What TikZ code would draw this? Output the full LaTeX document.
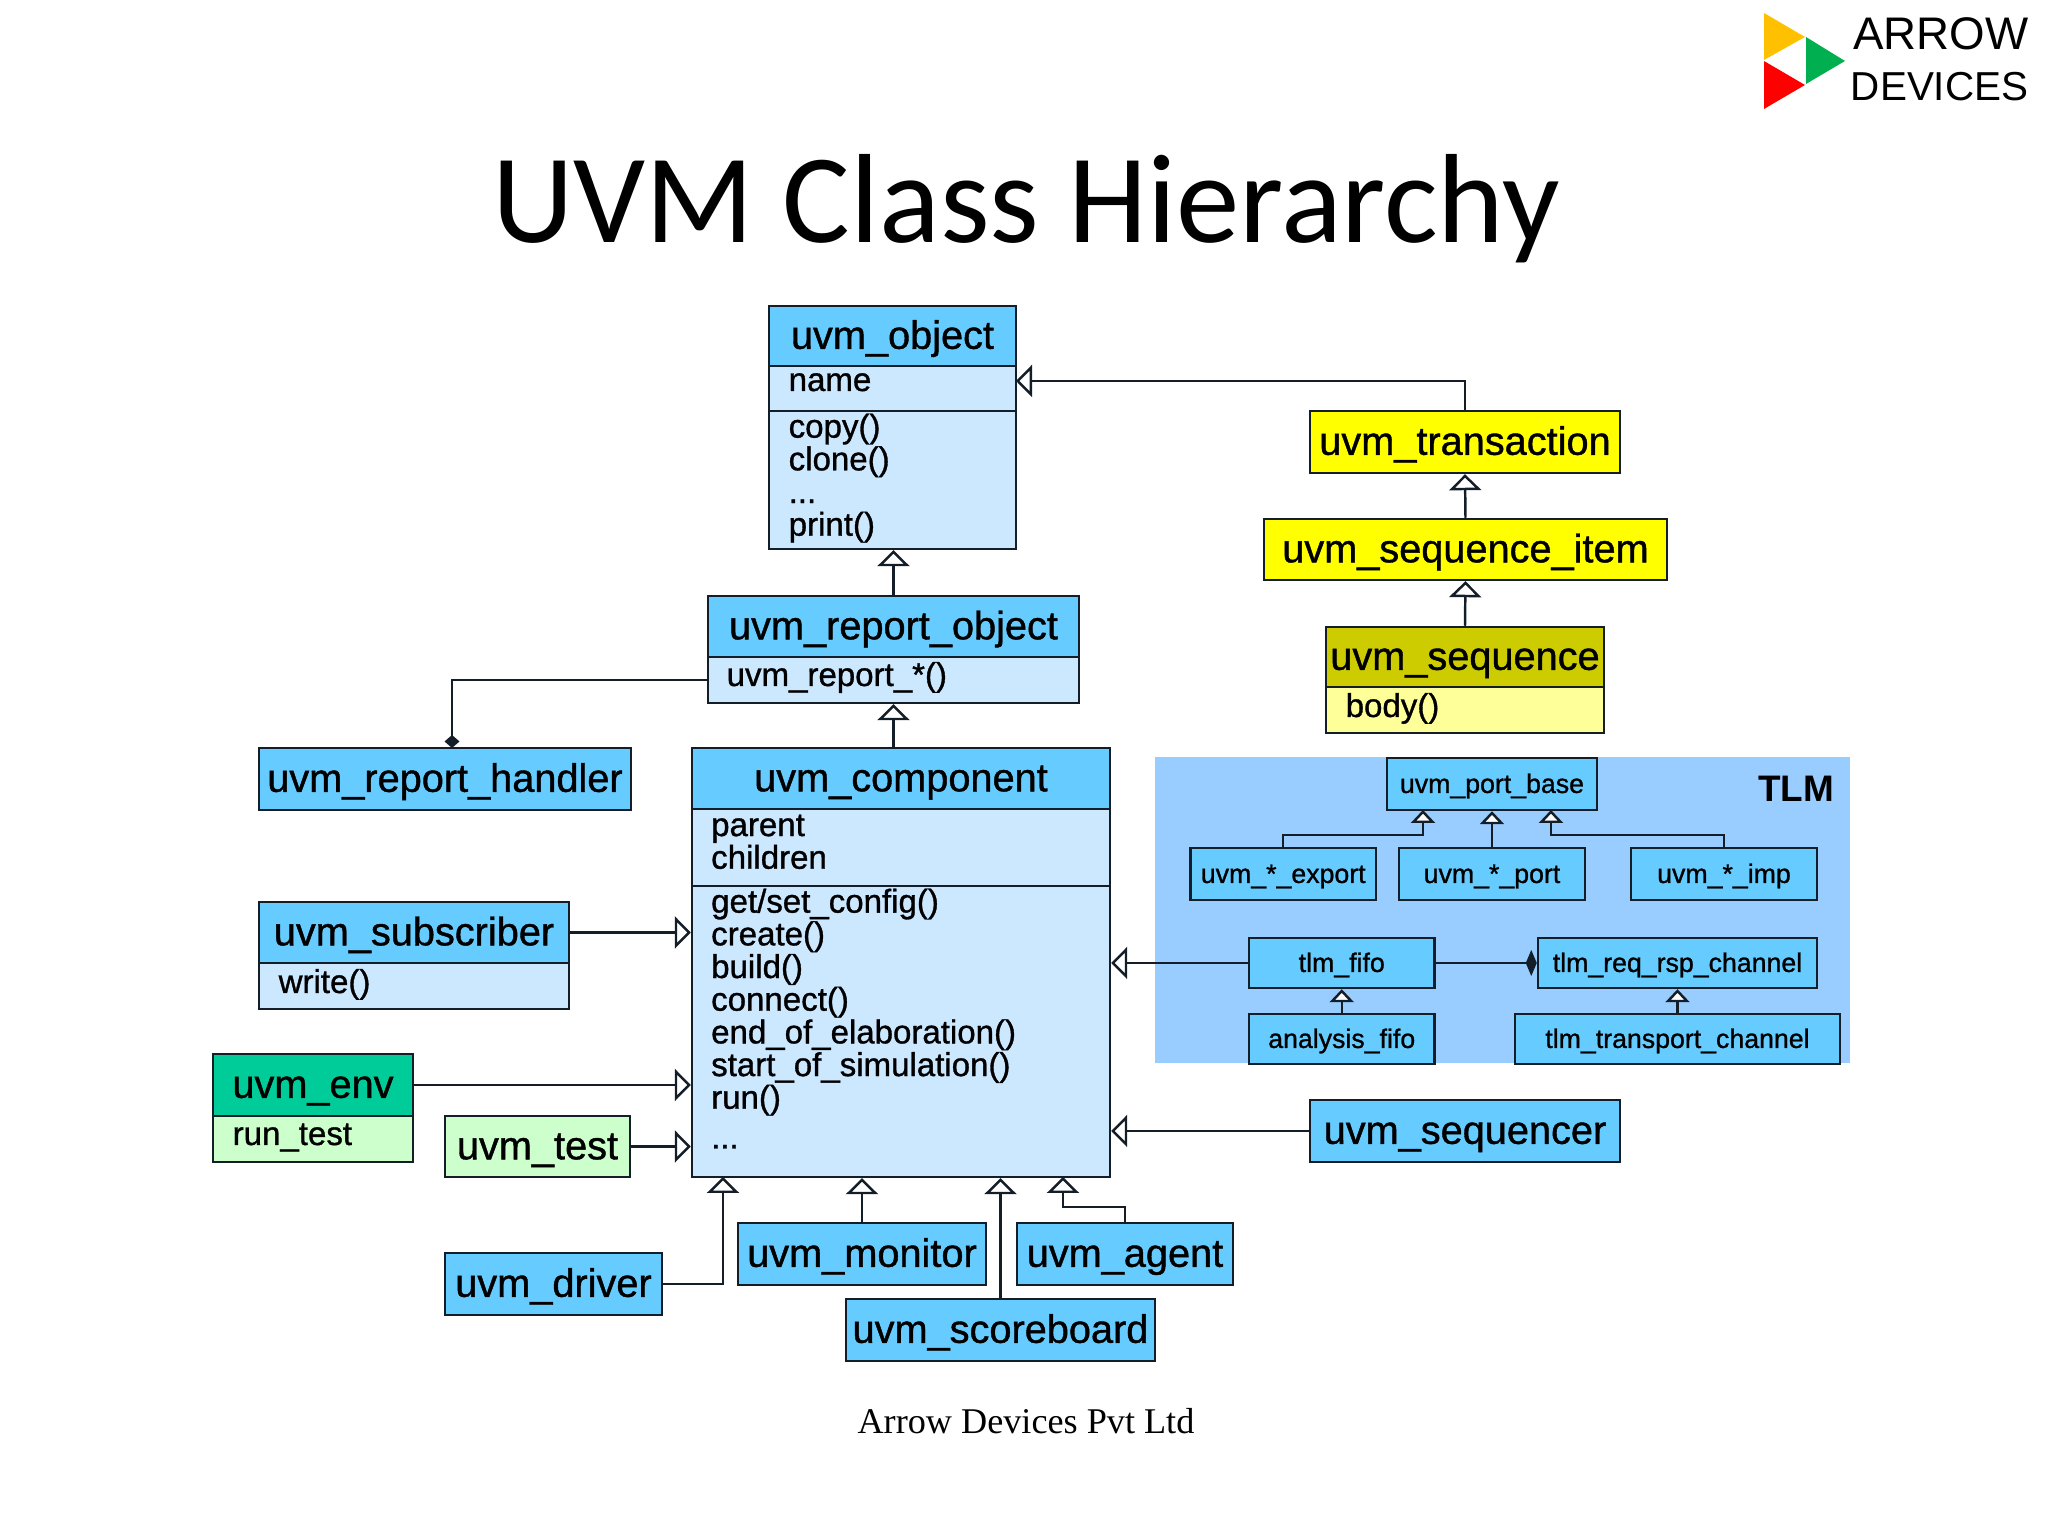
\documentclass[tikz,border=0pt]{standalone}
\usepackage{fontspec}
\setmainfont{Liberation Serif}
\newfontfamily\umlfont[FakeBold=1]{Liberation Sans}
\newfontfamily\logofont{Liberation Sans}
\newfontfamily\titlefont{Carlito}
\usepackage{tikz}
\usetikzlibrary{arrows.meta}
\definecolor{headblue}{RGB}{102,204,255}
\definecolor{bodyblue}{RGB}{204,232,255}
\definecolor{tlmblue}{RGB}{153,204,255}
\definecolor{envgreen}{RGB}{0,204,153}
\definecolor{palegreen}{RGB}{204,255,204}
\definecolor{seqyellow}{RGB}{204,204,0}
\definecolor{brightyellow}{RGB}{255,255,0}
\definecolor{paleyellow}{RGB}{255,255,153}
\definecolor{boxline}{RGB}{20,30,40}
\definecolor{logoamber}{RGB}{255,192,0}
\definecolor{logogreen}{RGB}{0,176,80}
\definecolor{logored}{RGB}{255,0,0}
\tikzset{
    umlbox/.style={draw=boxline,line width=.7pt,inner sep=0pt},
    classbox/.style={umlbox,fill=headblue,minimum height=.62cm,font=\umlfont\fontsize{11.3}{13}\selectfont,text height=9.5pt,text depth=2.2pt},
    slotbox/.style={umlbox,fill=bodyblue},
    portbox/.style={classbox,minimum height=.5cm,font=\umlfont\fontsize{7.6}{9}\selectfont,text height=6.2pt,text depth=1.1pt},
    members/.style={inner sep=0pt,align=left,font=\umlfont\fontsize{9.4}{9.3}\selectfont},
    inherit/.style={draw=boxline,line width=.7pt,-{Triangle[fill=white,length=1.6mm,width=3.2mm]}},
    smallinherit/.style={draw=boxline,line width=.7pt,-{Triangle[fill=white,length=1.3mm,width=2.4mm]}},
}
\begin{document}
\begin{tikzpicture}[x=1cm,y=-1cm]
    \useasboundingbox (0,0) rectangle (20.48,15.37);
    % heading and logo
    \node[anchor=base,font=\titlefont\fontsize{36.1}{40}\selectfont,inner sep=0pt] (title) at (10.26,2.43) {UVM Class Hierarchy};
    \node[anchor=base,font=\fontsize{10.3}{12}\selectfont,inner sep=0pt] (footer) at (10.26,14.34) {Arrow Devices Pvt Ltd};
    \fill[logoamber] (17.64,.13) -- (17.64,.60) -- (18.05,.37) -- cycle;
    \fill[logogreen] (18.06,.37) -- (18.06,.84) -- (18.45,.61) -- cycle;
    \fill[logored] (17.64,.61) -- (17.64,1.09) -- (18.05,.85) -- cycle;
    \node[anchor=base east,font=\logofont\fontsize{13}{14}\selectfont,inner sep=0pt] (logotop) at (20.29,.50) {ARROW};
    \node[anchor=base east,font=\logofont\fontsize{11.5}{14}\selectfont,inner sep=0pt] (logobot) at (20.29,1.01) {DEVICES};

    % uvm_object branch
    \node[classbox,minimum width=2.47cm,minimum height=.6cm] (obj) at (8.925,3.36) {uvm\_object};
    \node[slotbox,minimum width=2.47cm,minimum height=.45cm] (obj_attr) at (8.925,3.885) {};
    \node[slotbox,minimum width=2.47cm,minimum height=1.38cm] (obj_ops) at (8.925,4.8) {};
    \node[members,anchor=base west] (obj_attr_txt) at (7.88,3.91) {name};
    \node[members,anchor=north west] (obj_ops_txt) at (7.88,4.13) {copy()\\clone()\\...\\print()};

    \node[classbox,minimum width=3.71cm,minimum height=.61cm] (rep) at (8.935,6.265) {uvm\_report\_object};
    \node[slotbox,minimum width=3.71cm,minimum height=.46cm] (rep_ops) at (8.935,6.8) {};
    \node[members,anchor=base west] (rep_ops_txt) at (7.26,6.86) {uvm\_report\_*()};

    \node[classbox,minimum width=3.72cm] (handler) at (4.45,7.79) {uvm\_report\_handler};

    % uvm_component
    \node[classbox,minimum width=4.18cm,minimum height=.61cm] (cmp) at (9.01,7.785) {uvm\_component};
    \node[slotbox,minimum width=4.18cm,minimum height=.77cm] (cmp_attr) at (9.01,8.475) {};
    \node[slotbox,minimum width=4.18cm,minimum height=2.91cm] (cmp_ops) at (9.01,10.315) {};
    \node[members,anchor=north west] (cmp_attr_txt) at (7.105,8.14) {parent\\children};
    \node[members,anchor=north west] (cmp_ops_txt) at (7.105,8.88) {get/set\_config()\\create()\\build()\\connect()\\end\_of\_elaboration()\\start\_of\_simulation()\\run()\\[2pt]...};

    % left and bottom classes
    \node[classbox,minimum width=3.10cm,minimum height=.61cm] (sub) at (4.14,9.325) {uvm\_subscriber};
    \node[slotbox,minimum width=3.10cm,minimum height=.46cm] (sub_ops) at (4.14,9.86) {};
    \node[members,anchor=base west] (sub_ops_txt) at (2.78,9.93) {write()};
    \node[classbox,fill=envgreen,minimum width=2cm] (env) at (3.13,10.85) {uvm\_env};
    \node[slotbox,fill=palegreen,minimum width=2cm,minimum height=.46cm] (env_ops) at (3.13,11.39) {};
    \node[members,anchor=base west] (env_ops_txt) at (2.32,11.45) {run\_test};
    \node[classbox,fill=palegreen,minimum width=1.85cm,minimum height=.61cm] (tst) at (5.375,11.465) {uvm\_test};
    \node[classbox,minimum width=2.17cm] (drv) at (5.535,12.84) {uvm\_driver};
    \node[classbox,minimum width=2.48cm] (mon) at (8.62,12.54) {uvm\_monitor};
    \node[classbox,minimum width=2.16cm] (agt) at (11.25,12.54) {uvm\_agent};
    \node[classbox,minimum width=3.09cm] (scb) at (10.005,13.30) {uvm\_scoreboard};
    \node[classbox,minimum width=3.10cm] (sqr) at (14.65,11.31) {uvm\_sequencer};

    % sequence classes
    \node[classbox,fill=brightyellow,minimum width=3.10cm] (trans) at (14.65,4.42) {uvm\_transaction};
    \node[classbox,fill=brightyellow,minimum width=4.03cm,minimum height=.61cm] (item) at (14.655,5.495) {uvm\_sequence\_item};
    \node[classbox,fill=seqyellow,minimum width=2.78cm,minimum height=.6cm] (seq) at (14.65,6.57) {uvm\_sequence};
    \node[slotbox,fill=paleyellow,minimum width=2.78cm,minimum height=.46cm] (seq_ops) at (14.65,7.10) {};
    \node[members,anchor=base west] (seq_ops_txt) at (13.45,7.17) {body()};

    % TLM block
    \node[fill=tlmblue,inner sep=0pt,minimum width=6.95cm,minimum height=3.06cm] (tlm) at (15.025,9.10) {};
    \node[font=\logofont\bfseries\fontsize{10.5}{12}\selectfont,inner sep=0pt] (tlm_txt) at (17.96,7.89) {TLM};
    \node[portbox,minimum width=2.10cm,minimum height=.52cm] (base) at (14.92,7.84) {uvm\_port\_base};
    \node[portbox,minimum width=1.855cm,minimum height=.52cm] (export) at (12.8325,8.74) {uvm\_*\_export};
    \node[portbox,minimum width=1.86cm,minimum height=.52cm] (port) at (14.92,8.74) {uvm\_*\_port};
    \node[portbox,minimum width=1.86cm,minimum height=.52cm] (imp) at (17.24,8.74) {uvm\_*\_imp};
    \node[portbox,minimum width=1.855cm] (fifo) at (13.4175,9.63) {tlm\_fifo};
    \node[portbox,minimum width=1.855cm] (afifo) at (13.4175,10.39) {analysis\_fifo};
    \node[portbox,minimum width=2.79cm] (reqrsp) at (16.775,9.63) {tlm\_req\_rsp\_channel};
    \node[portbox,minimum width=3.25cm] (transport) at (16.775,10.39) {tlm\_transport\_channel};

    % free connector ends
    \coordinate (obj_in) at (10.16,3.81);
    \coordinate (handler_top) at (4.52,7.48);
    \coordinate (cmp_drv) at (7.23,11.77);
    \coordinate (cmp_agt) at (10.63,11.77);
    \coordinate (base_l) at (14.23,8.10);
    \coordinate (base_r) at (15.51,8.10);

    % connectors
    \draw[inherit] (trans.north) |- (obj_in);
    \draw[inherit] (item.north) -- (trans.south);
    \draw[inherit] (seq.north) -- (item.south);
    \draw[inherit] (rep.north) -- (obj_ops.south -| rep.north);
    \draw[inherit] (cmp.north -| rep_ops.south) -- (rep_ops.south);
    \draw[draw=boxline,line width=.7pt,-{Diamond[length=1.3mm,width=1.5mm]}] (rep_ops.west) -| (handler_top);
    \draw[inherit] (sub.east) -- (sub.east -| cmp_ops.west);
    \draw[inherit] (env.east) -- (env.east -| cmp_ops.west);
    \draw[inherit] (tst.east) -- (tst.east -| cmp_ops.west);
    \draw[inherit] (drv.east) -| (cmp_drv);
    \draw[inherit] (mon.north) -- (mon.north |- cmp_ops.south);
    \draw[inherit] (scb.north) -- (scb.north |- cmp_ops.south);
    \draw[inherit] (agt.north) -- ++(0,-.15) -| (cmp_agt);
    \draw[inherit] (sqr.west) -- (sqr.west -| cmp_ops.east);
    \draw[inherit] (fifo.west) -- (fifo.west -| cmp_ops.east);
    \draw[draw=boxline,line width=.7pt,-{Diamond[length=1.1mm,width=2.6mm]}] (fifo.east) -- (reqrsp.west);
    \draw[smallinherit] (export.north) -- ++(0,-.12) -| (base_l);
    \draw[smallinherit] (port.north) -- (base.south);
    \draw[smallinherit] (imp.north) -- ++(0,-.12) -| (base_r);
    \draw[smallinherit] (afifo.north) -- (fifo.south);
    \draw[smallinherit] (transport.north) -- (reqrsp.south);
\end{tikzpicture}
\end{document}
